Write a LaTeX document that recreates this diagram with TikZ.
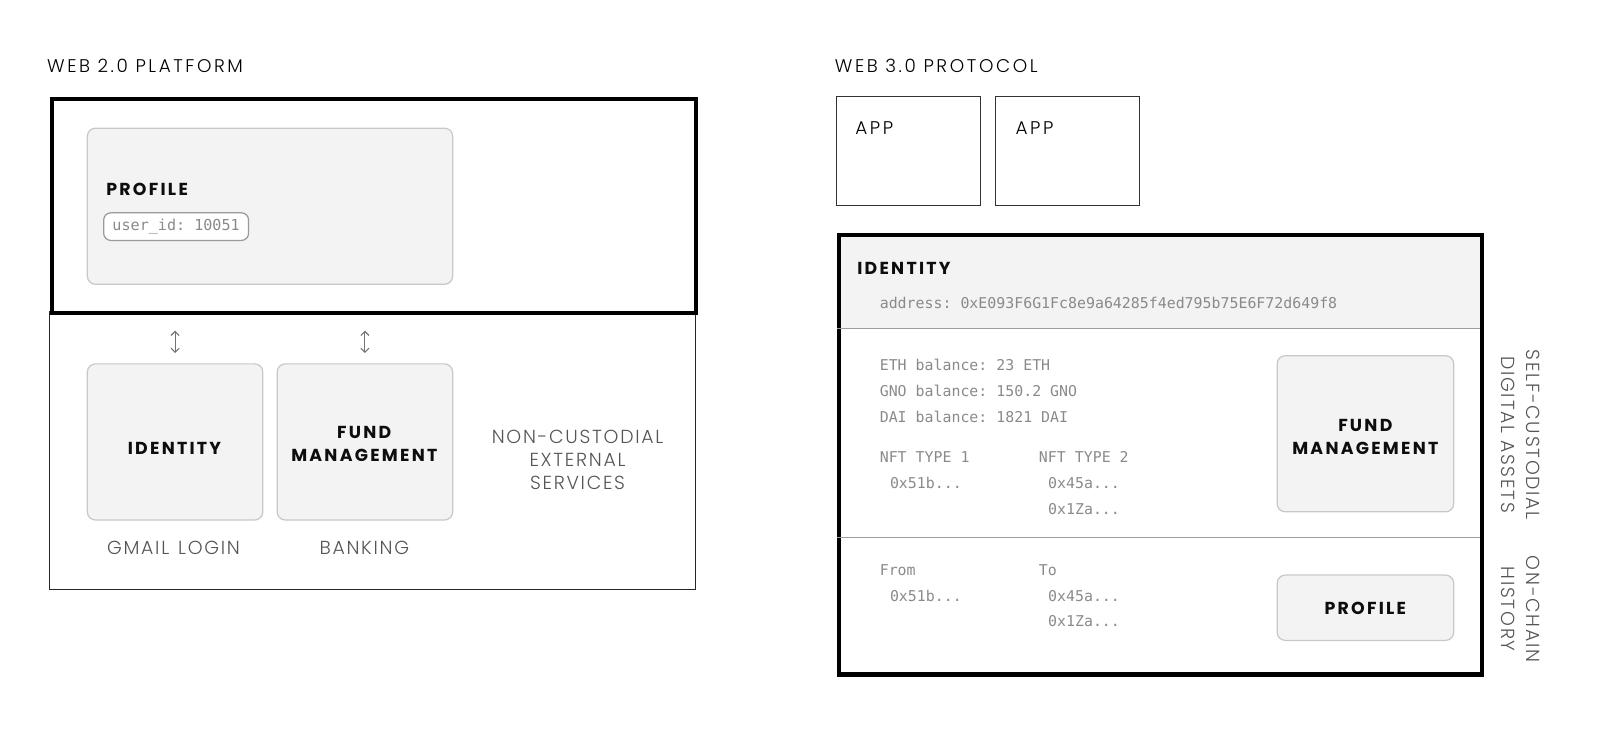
\documentclass[tikz,border=0pt]{standalone}
\usepackage{fontspec}
\setmainfont{Poppins}
\setmonofont{DejaVu Sans Mono}
\IfFontExistsTF{Poppins Light}{\def\lightname{Poppins Light}}{\def\lightname{Poppins}}
\newfontfamily\hdrfont[LetterSpace=14]{\lightname}
\newfontfamily\bldfont[LetterSpace=13]{Poppins}
\newfontfamily\lblfont[LetterSpace=9]{\lightname}
\usetikzlibrary{arrows.meta}
\definecolor{boxgray}{HTML}{F3F3F3}
\definecolor{boxline}{HTML}{C8C8C8}
\definecolor{pillline}{HTML}{9A9A9A}
\definecolor{monogray}{HTML}{8A8A8A}
\definecolor{lblgray}{HTML}{555555}
\definecolor{sepgray}{HTML}{9C9C9C}
\tikzset{
  graybox/.style={draw=boxline, fill=boxgray, line width=1.2pt, rounded corners=8pt, inner sep=0pt},
  thickbox/.style={draw=black, line width=4pt, inner sep=0pt},
  thinbox/.style={draw=black!85, line width=1.3pt, inner sep=0pt},
  appbox/.style={draw=black!80, line width=1.3pt, inner sep=0pt},
  hdr/.style={font=\hdrfont\fontsize{18}{20}\selectfont, text=black, inner sep=0pt},
  bold/.style={font=\bldfont\bfseries\fontsize{17}{22}\selectfont, text=black!95, inner sep=0pt, align=center},
  lbl/.style={font=\lblfont\fontsize{18.5}{22.5}\selectfont, text=lblgray, inner sep=0pt, align=center},
  mono/.style={font=\ttfamily\fontsize{14.6}{18}\selectfont, text=monogray, inner sep=0pt, anchor=base west},
  dbl/.style={draw=black!55, line width=1.1pt, {Straight Barb[length=4pt,width=8pt]}-{Straight Barb[length=4pt,width=8pt]}},
  sep/.style={draw=sepgray, line width=1.4pt}
}
\begin{document}
\begin{tikzpicture}[x=1pt,y=-1pt]
\useasboundingbox (0,0) rectangle (1568,735);
% ---------- WEB 2.0 ----------
\node[hdr, anchor=base west] (h2) at (46,71) {WEB 2.0 PLATFORM};
\node[thinbox, anchor=north west, minimum width=633pt, minimum height=272pt] (low) at (48,305) {};
\node[thickbox, anchor=north west, minimum width=631pt, minimum height=210pt] (top) at (49,95) {};
\node[graybox, anchor=north west, minimum width=358pt, minimum height=153pt] (prof) at (85,125) {};
\node[bold, anchor=base west] (proft) at (104,192) {PROFILE};
\node[draw=pillline, fill=white, line width=1.2pt, rounded corners=7pt, anchor=north west, minimum width=142pt, minimum height=27pt, inner sep=0pt] (pill) at (101,208) {};
\node[font=\ttfamily\fontsize{14.8}{16}\selectfont, text=monogray, inner sep=0pt] (pillt) at (pill.center) {user\_id: 10051};
\node[graybox, anchor=north west, minimum width=172pt, minimum height=153pt] (id) at (85,356) {};
\node[bold] (idt) at (171,439) {IDENTITY};
\node[graybox, anchor=north west, minimum width=172pt, minimum height=153pt] (fm) at (271,356) {};
\node[bold] (fmt) at (357,435) {FUND\\MANAGEMENT};
\draw[dbl, shorten <=15pt, shorten >=10pt] (id.north |- top.south) -- (id.north);
\draw[dbl, shorten <=15pt, shorten >=10pt] (fm.north |- top.south) -- (fm.north);
\node[lbl] (gm) at (170,537) {GMAIL\hspace{2pt} LOGIN};
\node[lbl] (bk) at (357,537) {BANKING};
\node[lbl] (nc) at (566,451) {NON-CUSTODIAL\\EXTERNAL\\SERVICES};
% ---------- WEB 3.0 ----------
\node[hdr, anchor=base west] (h3) at (818,71) {WEB 3.0 PROTOCOL};
\node[appbox, anchor=north west, minimum width=141pt, minimum height=107pt] (app1) at (819,94) {};
\node[appbox, anchor=north west, minimum width=141pt, minimum height=107pt] (app2) at (975,94) {};
\node[hdr, anchor=base west] (app1t) at (838,132) {APP};
\node[hdr, anchor=base west] (app2t) at (995,132) {APP};
\fill[boxgray] (820,228) rectangle (1450,322);
\node[thickbox, anchor=north west, minimum width=630pt, minimum height=431pt] (big) at (820,228) {};
\coordinate (s1l) at (820,322); \coordinate (s1r) at (1450,322);
\coordinate (s2l) at (820,527); \coordinate (s2r) at (1450,527);
\draw[sep] (s1l) -- (s1r);
\draw[sep] (s2l) -- (s2r);
\node[bold, anchor=base west] (idr) at (840,269) {IDENTITY};
\node[mono] (addr) at (862,302) {address: 0xE093F6G1Fc8e9a64285f4ed795b75E6F72d649f8};
\node[mono] (eth) at (862,363) {ETH balance: 23 ETH};
\node[mono] (gno) at (862,389) {GNO balance: 150.2 GNO};
\node[mono] (dai) at (862,414) {DAI balance: 1821 DAI};
\node[mono] (n1) at (862,453) {NFT TYPE 1};
\node[mono] (n2) at (1018,453) {NFT TYPE 2};
\node[mono] (n1a) at (872,479) {0x51b...};
\node[mono] (n2a) at (1027,479) {0x45a...};
\node[mono] (n2b) at (1027,504) {0x1Za...};
\node[graybox, anchor=north west, minimum width=173pt, minimum height=153pt] (fmr) at (1251,348) {};
\node[bold] (fmrt) at (1338,428) {FUND\\MANAGEMENT};
\node[mono] (fr) at (862,564) {From};
\node[mono] (to) at (1018,564) {To};
\node[mono] (fra) at (872,589) {0x51b...};
\node[mono] (toa) at (1027,589) {0x45a...};
\node[mono] (tob) at (1027,614) {0x1Za...};
\node[graybox, anchor=north west, minimum width=173pt, minimum height=64pt] (pr) at (1251,563) {};
\node[bold] (prt) at (1338,596) {PROFILE};
\node[lbl, rotate=-90, font=\lblfont\fontsize{18.5}{24}\selectfont] (sc) at (1490,426) {SELF-CUSTODIAL\\DIGITAL ASSETS};
\node[lbl, rotate=-90, font=\lblfont\fontsize{18.5}{24}\selectfont] (oc) at (1490,597) {ON-CHAIN\\HISTORY};
\end{tikzpicture}
\end{document}
